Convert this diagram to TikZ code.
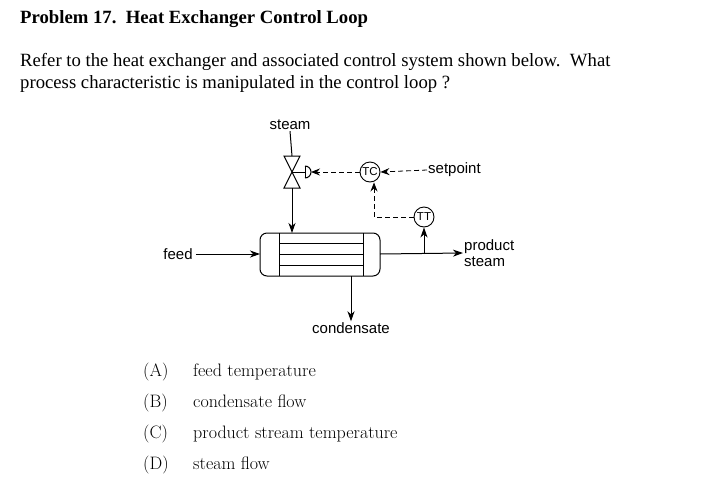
\documentclass[tikz,border=0pt]{standalone}
\usepackage{fontspec}
\setmainfont{Liberation Serif}
\setsansfont{Liberation Sans}
\newfontfamily\ansfont{Latin Modern Roman}
\usetikzlibrary{arrows.meta}
\begin{document}
\begin{tikzpicture}[x=1pt,y=-1pt,
  pipe/.style={line width=1pt,-{Stealth[length=10pt,width=7pt,inset=3pt]}},
  sig/.style={line width=0.8pt,dash pattern=on 5pt off 3pt,-{Stealth[length=9pt,width=7pt,inset=3pt]}},
  inst/.style={circle,draw,line width=0.9pt,minimum size=20pt,inner sep=0pt,font=\sffamily\fontsize{11.5}{11.5}\selectfont},
  lbl/.style={font=\sffamily\fontsize{15}{16}\selectfont,inner sep=1pt},
  txt/.style={anchor=base west,inner sep=0pt,font=\fontsize{18.7}{20}\selectfont}]
\useasboundingbox (0,0) rectangle (701,493);
\node[txt,font=\bfseries\fontsize{18.7}{20}\selectfont] (title) at (20,23) {Problem 17.\ \ Heat Exchanger Control Loop};
\node[txt] (q1) at (20,66) {Refer to the heat exchanger and associated control system shown below.\ \ What};
\node[txt] (q2) at (20,88) {process characteristic is manipulated in the control loop ?};
% exchanger
\draw[line width=1pt,rounded corners=7pt] (260,233) rectangle (380,276);
\draw[line width=1pt] (279,233) -- (279,276) (363,233) -- (363,276);
\draw[line width=1pt] (279,243) -- (363,243) (279,254) -- (363,254) (279,265) -- (363,265);
\coordinate (exL) at (260,254); \coordinate (exR) at (380,254);
\coordinate (exT) at (292,233); \coordinate (exB) at (351,276);
% valve
\coordinate (vt) at (292,156); \coordinate (vb) at (292,188); \coordinate (vc) at (292,172);
\draw[line width=1pt] (284,156) -- (300,156) -- (284,188) -- (300,188) -- cycle;
\draw[line width=1pt] (vc) -- (305,172);
\draw[line width=1pt] (305,166) -- (305,178);
\draw[line width=1pt] (305,166) arc (90:-90:6pt);
\coordinate (act) at (311,172);
\node[lbl] (steam) at (290,125) {steam};
\draw[line width=1pt] (steam.south) -- (vt);
\draw[pipe] (vb) -- (exT);
\node[inst] (tc) at (370,172) {TC};
\node[inst] (tt) at (424,217) {TT};
\node[lbl,anchor=west] (sp) at (427,170) {setpoint};
\draw[sig] (sp.west) -- (tc.east);
\draw[sig] (tc.west) -- (act);
\coordinate (bend) at (374,217);
\draw[sig] (tt.west) -- (bend) -- (tc.south -| bend);
\node[lbl] (feed) at (178,254) {feed};
\draw[pipe] (feed.east) ++(2,0) -- (exL);
\node[lbl,anchor=west,align=left] (prod) at (463,253) {product\\steam};
\draw[pipe] (exR) -- (prod.west);
\coordinate (tap) at (424,254);
\draw[pipe] (tap) -- (tt.south);
\node[lbl] (cond) at (351,328) {condensate};
\draw[pipe] (exB) -- (cond.north);
% answers
\begin{scope}[font=\ansfont\fontsize{18}{20}\selectfont,inner sep=0pt]
\node[anchor=base west] (a) at (143,376) {(A)}; \node[anchor=base west] (at) at (193,376) {feed temperature};
\node[anchor=base west] (b) at (143,407) {(B)}; \node[anchor=base west] (bt) at (193,407) {condensate flow};
\node[anchor=base west] (c) at (143,438) {(C)}; \node[anchor=base west] (ct) at (193,438) {product stream temperature};
\node[anchor=base west] (d) at (143,469) {(D)}; \node[anchor=base west] (dt) at (193,469) {steam flow};
\end{scope}
\end{tikzpicture}
\end{document}
